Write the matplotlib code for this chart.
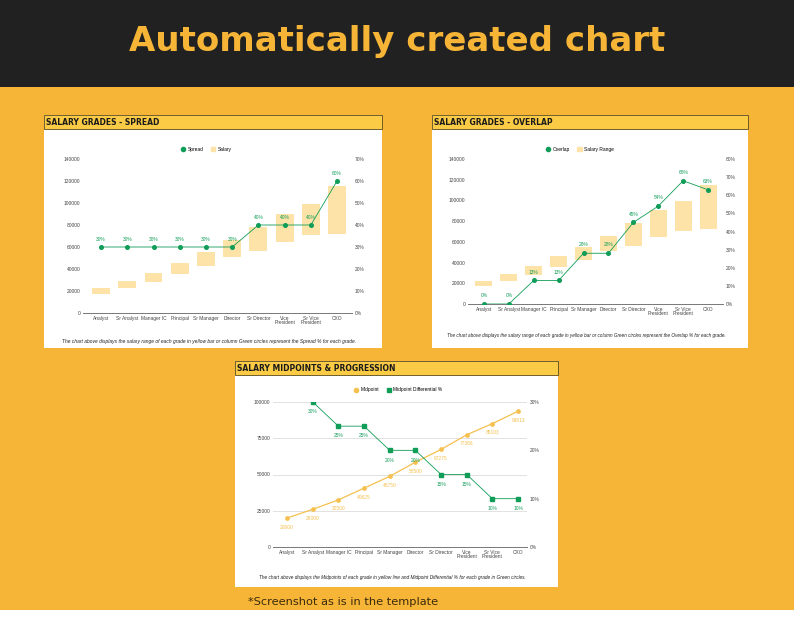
import numpy as np
import matplotlib.pyplot as plt
from matplotlib.patches import Rectangle
from matplotlib.lines import Line2D

plt.rcParams['font.family'] = ['Liberation Sans', 'DejaVu Sans']

# ---- data ----
grades = ['Analyst', 'Sr Analyst', 'Manager IC', 'Principal', 'Sr Manager', 'Director',
          'Sr Director', 'Vice\nPresident', 'Sr Vice\nPresident', 'CXO']
salary_min = [17400, 22600, 28300, 35300, 42400, 50900, 56100, 64500, 70900, 72000]
salary_max = [22600, 29400, 36700, 45900, 55100, 66100, 78500, 90300, 99300, 115200]
spread = [30, 30, 30, 30, 30, 30, 40, 40, 40, 60]
overlap = [0, 0, 13, 13, 28, 28, 45, 54, 68, 63]
midpoint = [20000, 26000, 32500, 40625, 48750, 58500, 67275, 77366, 85103, 93613]
mid_diff = [np.nan, 30, 25, 25, 20, 20, 15, 15, 10, 10]

W, H = 794, 635
ORANGE = '#F6B536'
DARK = '#212121'
BAR = '#FDE3A7'
GREEN = '#0F9D58'
GOLD = '#F5C04E'
TITLEBAR = '#FBCB45'

fig = plt.figure(figsize=(W / 100, H / 100), dpi=100, facecolor=ORANGE)


def rect(x, y, w, h):
    # pixel box (from top left) -> figure fraction
    return [x / W, 1 - (y + h) / H, w / W, h / H]


def box(x, y, w, h, **kw):
    r = rect(x, y, w, h)
    fig.patches.append(Rectangle((r[0], r[1]), r[2], r[3], transform=fig.transFigure,
                                 zorder=-10, **kw))


def fx(x):
    return x / W


def fy(y):
    return 1 - y / H


# background pieces
box(0, 0, W, 87, facecolor=DARK, edgecolor='none')
box(0, 610, W, 25, facecolor='white', edgecolor='none')
fig.text(0.5, fy(42), 'Automatically created chart', ha='center', va='center',
         color=ORANGE, fontsize=24.5, fontweight='bold', family='DejaVu Sans')
fig.text(fx(248), fy(602), '*Screenshot as is in the template', ha='left', va='center',
         color='#3B2A0E', fontsize=8.2, family='DejaVu Sans')

small = 3.5
x = np.arange(len(grades))


def panel(px, py, pw, ph, title, caption, cap_y, cap_fs):
    box(px, py, pw, ph, facecolor='white', edgecolor='none')
    box(px, py, pw, 14, facecolor=TITLEBAR, edgecolor='#5a4a1a', linewidth=0.6)
    fig.text(fx(px + 2), fy(py + 7.5), title, ha='left', va='center', fontsize=5.5,
             fontweight='bold', color='#1a1a1a', family='DejaVu Sans')
    fig.text(fx(px + pw / 2 - 4), fy(cap_y), caption, ha='center', va='center',
             fontsize=cap_fs, style='italic', color='#222222')


def style_axes(ax, ax2):
    for a in (ax, ax2):
        for s in a.spines.values():
            s.set_visible(False)
        a.tick_params(length=0, labelsize=small, colors='#444444', pad=2)
        a.set_facecolor('none')
    ax.spines['bottom'].set_visible(True)
    ax.spines['bottom'].set_color('#777777')
    ax.spines['bottom'].set_linewidth(0.7)
    ax.set_xticks(x)
    ax.set_xticklabels(grades, fontsize=small, linespacing=0.9)


def pct_labels(ax2, vals, dy, color):
    for i, v in enumerate(vals):
        if not np.isnan(v):
            ax2.annotate('%d%%' % v, (i, v), xytext=(0, dy), textcoords='offset points',
                         ha='center', va='center', fontsize=small, color=color)


# ---- panel 1: spread ----
panel(44, 115, 338, 233, 'SALARY GRADES - SPREAD',
      'The chart above displays the salary range of each grade in yellow bar or column Green circles represent the Spread % for each grade.',
      341, 3.5)
ax = fig.add_axes(rect(83, 159, 269, 154))
ax2 = ax.twinx()
style_axes(ax, ax2)
lo = np.array(salary_min)
hi = np.array(salary_max)
ax.bar(x, hi - lo, bottom=lo, width=0.68, color=BAR, label='Salary')
ax.set_ylim(0, 140000)
ax.set_yticks(np.arange(0, 140001, 20000))
ax.set_xlim(-0.69, 9.57)
ax2.plot(x, spread, color=GREEN, lw=0.6, marker='o', ms=2.6, label='Spread')
ax2.set_ylim(0, 70)
ax2.set_yticks(np.arange(0, 71, 10))
ax2.set_yticklabels(['%d%%' % v for v in range(0, 71, 10)])
pct_labels(ax2, spread, 5.5, GREEN)
fig.legend(handles=[Line2D([], [], color=GREEN, marker='o', ls='', ms=3, label='Spread'),
                    Rectangle((0, 0), 1, 1, color=BAR, label='Salary')],
           loc='center', bbox_to_anchor=(fx(206), fy(149)), ncol=2, frameon=False,
           fontsize=small, handlelength=1, handletextpad=0.4, columnspacing=1.5)

# ---- panel 2: overlap ----
panel(432, 115, 316, 233, 'SALARY GRADES - OVERLAP',
      'The chart above displays the salary range of each grade in yellow bar or column Green circles represent the Overlap % for each grade.',
      336, 3.35)
ax = fig.add_axes(rect(468, 159, 255, 145))
ax2 = ax.twinx()
style_axes(ax, ax2)
ax.bar(x, hi - lo, bottom=lo, width=0.68, color=BAR, label='Salary Range')
ax.set_ylim(0, 140000)
ax.set_yticks(np.arange(0, 140001, 20000))
ax.set_xlim(-0.64, 9.6)
ax2.plot(x, overlap, color=GREEN, lw=0.6, marker='o', ms=2.6, label='Overlap')
ax2.set_ylim(0, 80)
ax2.set_yticks(np.arange(0, 81, 10))
ax2.set_yticklabels(['%d%%' % v for v in range(0, 81, 10)])
pct_labels(ax2, overlap, 6, GREEN)
fig.legend(handles=[Line2D([], [], color=GREEN, marker='o', ls='', ms=3, label='Overlap'),
                    Rectangle((0, 0), 1, 1, color=BAR, label='Salary Range')],
           loc='center', bbox_to_anchor=(fx(580), fy(149)), ncol=2, frameon=False,
           fontsize=small, handlelength=1, handletextpad=0.4, columnspacing=1.5)

# ---- panel 3: midpoints ----
panel(235, 361, 323, 226, 'SALARY MIDPOINTS & PROGRESSION',
      'The chart above displays the Midpoints of each grade in yellow line and Midpoint Differential % for each grade in Green circles.',
      578, 3.4)
ax = fig.add_axes(rect(273, 402, 254, 145))
ax2 = ax.twinx()
style_axes(ax, ax2)
ax.set_ylim(0, 100000)
ax.set_yticks(np.arange(0, 100001, 25000))
ax.grid(axis='y', color='#dddddd', lw=0.6)
ax.set_axisbelow(True)
ax.set_xlim(-0.55, 9.35)
ax.plot(x, midpoint, color=GOLD, lw=0.9, marker='o', ms=2.4)
for i, v in enumerate(midpoint):
    ax.annotate(str(v), (i, v), xytext=(0, -6.5), textcoords='offset points',
                ha='center', va='center', fontsize=small, color=GOLD)
ax2.plot(x, mid_diff, color=GREEN, lw=0.6, marker='s', ms=2.2)
ax2.set_ylim(0, 30)
ax2.set_yticks(np.arange(0, 31, 10))
ax2.set_yticklabels(['%d%%' % v for v in range(0, 31, 10)])
pct_labels(ax2, mid_diff, -7, GREEN)
fig.legend(handles=[Line2D([], [], color=GOLD, marker='o', ls='', ms=3, label='Midpoint'),
                    Line2D([], [], color=GREEN, marker='s', ls='', ms=3, label='Midpoint Differential %')],
           loc='center', bbox_to_anchor=(fx(398), fy(390)), ncol=2, frameon=False,
           fontsize=small, handlelength=1, handletextpad=0.4, columnspacing=1.5)

fig.savefig('out.png', dpi=100, facecolor=ORANGE)
